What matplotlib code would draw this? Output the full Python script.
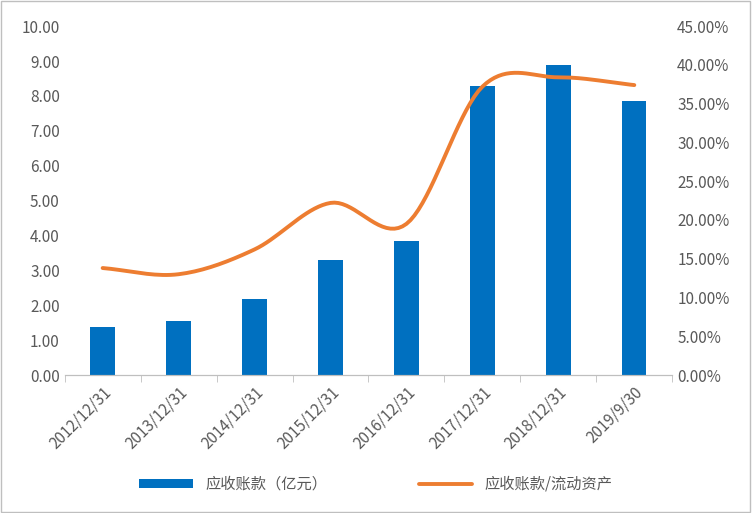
import numpy as np
import matplotlib
matplotlib.use("Agg")
import matplotlib.pyplot as plt
from matplotlib.ticker import FormatStrFormatter, FuncFormatter

plt.rcParams['font.family'] = ['Noto Sans CJK SC', 'DejaVu Sans']

dates = ["2012/12/31", "2013/12/31", "2014/12/31", "2015/12/31",
         "2016/12/31", "2017/12/31", "2018/12/31", "2019/9/30"]
receivables = [1.38, 1.56, 2.18, 3.30, 3.85, 8.28, 8.88, 7.85]
ratio_pct = [13.8, 13.0, 16.2, 22.2, 19.5, 37.2, 38.4, 37.4]

BLUE = "#0070C0"
ORANGE = "#ED7D31"


def smooth(x, y, n=20):
    # Catmull-Rom curve through the points, like Excel's smoothed line
    x = np.asarray(x, float)
    y = np.asarray(y, float)
    px = np.concatenate([[2 * x[0] - x[1]], x, [2 * x[-1] - x[-2]]])
    py = np.concatenate([[2 * y[0] - y[1]], y, [2 * y[-1] - y[-2]]])
    xs, ys = [], []
    t = np.linspace(0, 1, n)
    for i in range(1, len(px) - 2):
        for p, out in ((px, xs), (py, ys)):
            p0, p1, p2, p3 = p[i - 1], p[i], p[i + 1], p[i + 2]
            out.extend(0.5 * (2 * p1 + (-p0 + p2) * t
                              + (2 * p0 - 5 * p1 + 4 * p2 - p3) * t ** 2
                              + (-p0 + 3 * p1 - 3 * p2 + p3) * t ** 3))
    return xs, ys


fig = plt.figure(figsize=(7.52, 5.13), dpi=100)
fig.patches.append(plt.Rectangle((0.001, 0.001), 0.997, 0.997, transform=fig.transFigure,
                                 fill=False, edgecolor="#BFBFBF", linewidth=1))
ax = fig.add_axes([0.086, 0.269, 0.808, 0.680])
ax2 = ax.twinx()

x = np.arange(len(dates))
ax.bar(x, receivables, width=0.32, color=BLUE, label="应收账款（亿元）", zorder=2)
sx, sy = smooth(x, ratio_pct)
ax2.plot(sx, sy, color=ORANGE, linewidth=2.8, label="应收账款/流动资产", solid_capstyle="round")

ax.set_xlim(-0.5, len(dates) - 0.5)
ax.set_ylim(0, 10)
ax.set_yticks(np.arange(0, 10.01, 1))
ax.yaxis.set_major_formatter(FormatStrFormatter("%.2f"))
ax2.set_ylim(0, 45)
ax2.set_yticks(np.arange(0, 45.01, 5))
ax2.yaxis.set_major_formatter(FuncFormatter(lambda v, p: f"{v:.2f}%"))

ax.set_xticks(x)
ax.set_xticklabels(dates, rotation=45, ha="right", rotation_mode="anchor")
ax.set_xticks(np.arange(-0.5, len(dates), 1), minor=True)
ax.tick_params(axis="x", which="major", length=0, pad=6)
ax.tick_params(axis="x", which="minor", length=5, color="#BFBFBF")

for a in (ax, ax2):
    for s in ("top", "left", "right"):
        a.spines[s].set_visible(False)
    a.spines["bottom"].set_color("#BFBFBF")
    a.tick_params(axis="y", length=0, labelsize=11, colors="#595959")
ax.tick_params(axis="x", labelsize=11, colors="#595959")

h1, l1 = ax.get_legend_handles_labels()
h2, l2 = ax2.get_legend_handles_labels()
fig.legend(h1 + h2, l1 + l2, loc="center", bbox_to_anchor=(0.5, 0.056), ncol=2,
           frameon=False, fontsize=11, labelcolor="#595959", columnspacing=6,
           handlelength=3.5, handleheight=0.5)

fig.savefig("out.png", dpi=100)
